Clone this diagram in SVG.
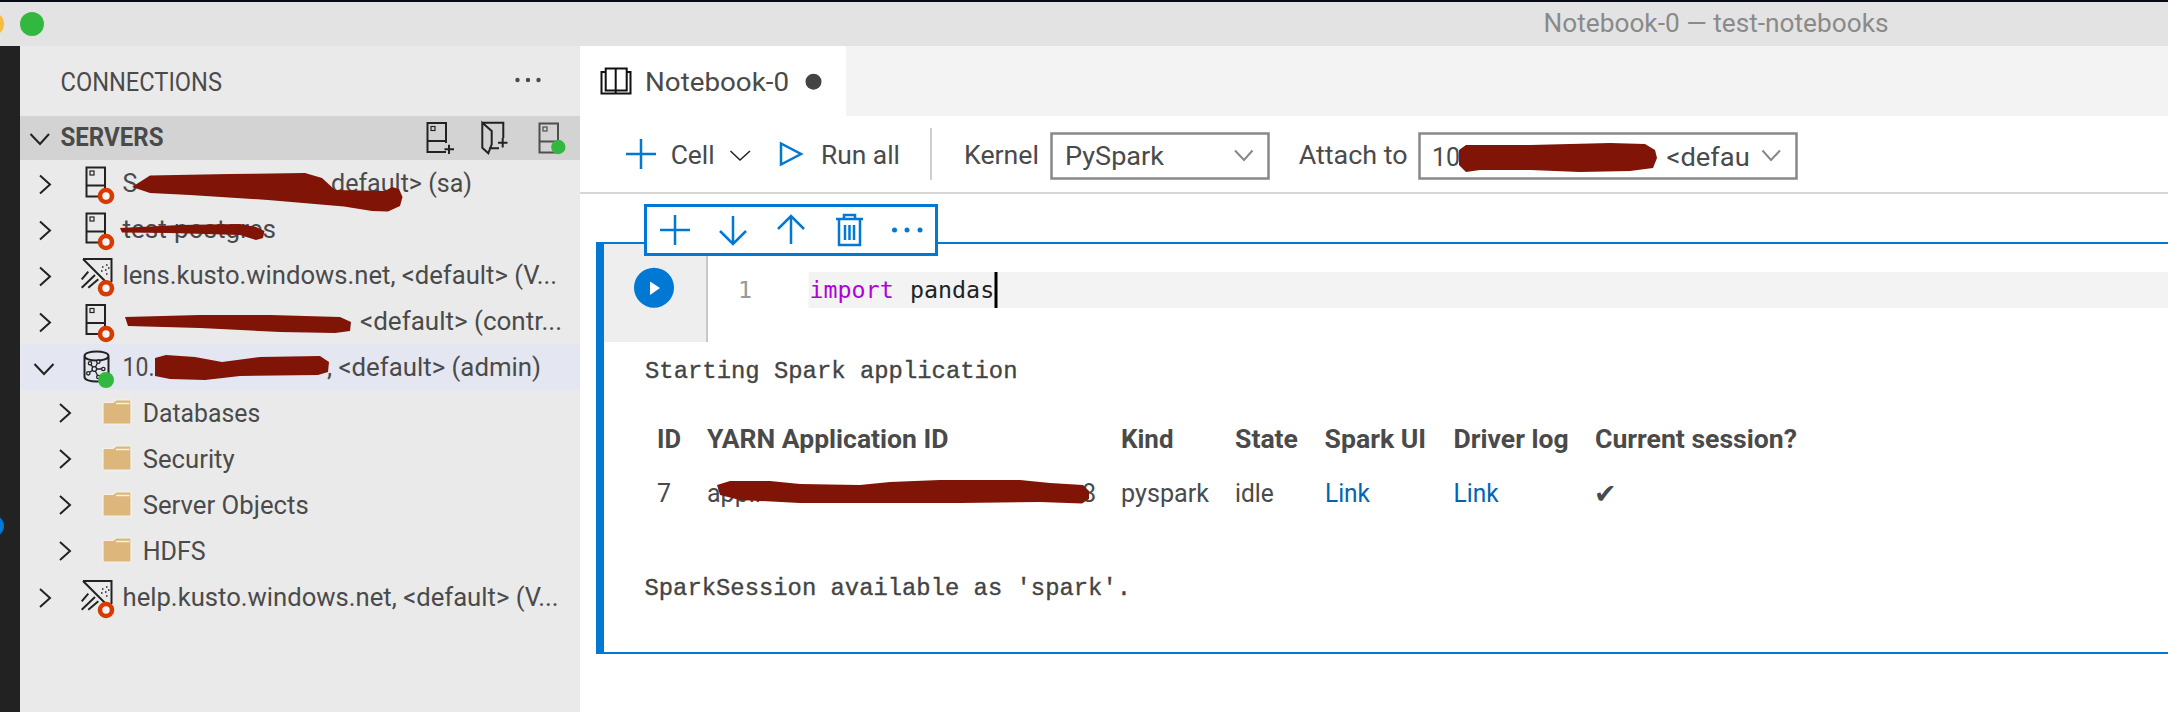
<svg xmlns="http://www.w3.org/2000/svg" width="2168" height="712" viewBox="0 0 2168 712">
<style>
text{font-family:"Roboto","Liberation Sans",sans-serif;font-size:25px;fill:#4a4a4a}
.b{font-weight:700}
.mono{font-family:"Liberation Mono",monospace;font-size:23.85px;fill:#444;stroke:#444;stroke-width:.35px}
.code{font-family:"DejaVu Sans Mono",monospace;font-size:23.3px;fill:#222}
.link{fill:#0065b3}
.ln{fill:none;stroke:#222;stroke-width:2}
.bl{fill:none;stroke:#0078d4;stroke-width:2.5}
.gc{fill:none;stroke:#888;stroke-width:2}
.box{fill:#fff;stroke:#888;stroke-width:2.5}
.red{fill:#7f1407}
.err{fill:#f6f6f6;stroke:#d83b01;stroke-width:4.6}
.ok{fill:#33b83f}
</style>
<defs>
<g id="srv" class="ln"><rect x="1" y="1" width="18.500" height="29"/><rect x="4.500" y="4.500" width="4" height="4" stroke-width="1.200"/><path d="M1 19H19.500"/></g>
<g id="kusto" class="ln"><path d="M1 1H29.500V24M1 1L25 25M-.3 21.300L6.300 13.700M-.3 29.700L13 17M6.300 29.700L16.300 21.300"/><path d="M20 9h1.500M24 7h1.500M19 13h1.500M23 12h1.500M26 10h1.500M24 16h1.500" stroke-width="1.500"/></g>
<path id="cr" class="ln" d="M0 0L10 9L0 18"/>
<g id="fold"><path d="M0 3.500H10L13 1H28V25H0Z" fill="#dcb67a" stroke="#f6f2ea" stroke-width="1.200"/><path d="M13 4.500H26.500" stroke="#f6f2ea" stroke-width="1.500"/></g>
</defs>

<g id="titlebar">
<rect width="2168" height="46" fill="#e3e3e3"/>
<rect width="2168" height="2" fill="#050a14"/>
<circle cx="-8" cy="24" r="12" fill="#f5bd3f"/>
<circle cx="32" cy="24" r="12" fill="#33b83f"/>
<text x="1543.500" y="31.500" style="fill:#8a8a8a" textLength="345" lengthAdjust="spacingAndGlyphs">Notebook-0 — test-notebooks</text>
</g>

<g id="sidebar">
<rect y="46" width="20" height="666" fill="#222"/>
<circle cx="-7" cy="526" r="11" fill="#0078d4"/>
<rect x="20" y="46" width="560" height="666" fill="#eaeaea"/>
<text x="60.500" y="90.500" textLength="161.500" lengthAdjust="spacingAndGlyphs">CONNECTIONS</text>
<g fill="#4a4a4a"><circle cx="517.500" cy="80" r="2.200"/><circle cx="528" cy="80" r="2.200"/><circle cx="538.500" cy="80" r="2.200"/></g>
</g>

<g id="servers-header">
<rect x="20" y="116" width="560" height="44" fill="#d3d3d3"/>
<path class="ln" d="M30.500 134L40 144L49 134"/>
<text class="b" x="60.500" y="146" textLength="103" lengthAdjust="spacingAndGlyphs">SERVERS</text>
<use href="#srv" x="426.500" y="122"/><rect x="441" y="143" width="14" height="12" fill="#d3d3d3"/><path class="ln" d="M441 152H446M444.500 149.300H454M449 144.800V154"/>
<path class="ln" d="M482.300 122.700H503.300V138M482.300 122.700L491.700 131V144.300L488.300 153.300L482.300 147.700ZM489 148.300H499M498 142.700H507.500M502.700 138V147.500"/>
<g opacity=".75"><use href="#srv" x="538.500" y="122.500"/></g><circle class="ok" cx="558.300" cy="147" r="7.200"/>
</g>

<g id="row-1">
<use href="#cr" x="40" y="175.500"/><use href="#srv" x="85.500" y="166.500"/><circle class="err" cx="106" cy="196" r="6"/>
<text x="122.500" y="191.700">S</text>
<text x="331" y="191.700" textLength="141" lengthAdjust="spacingAndGlyphs">default&gt; (sa)</text>
<path class="red" d="M132 187L150 175.500L230 174L305 173L322 178L335 190L385 191L392 187L399 189L402.500 197L400 206L388 211.500L372 211L344 206.500L268 200L190 195L150 193Z"/>
</g>
<g id="row-2">
<use href="#cr" x="40" y="221.500"/><use href="#srv" x="85.500" y="212.500"/><circle class="err" cx="106" cy="242" r="6"/>
<text x="122.500" y="237.700" textLength="153.500" lengthAdjust="spacingAndGlyphs">test-postgres</text>
<path class="red" d="M120 228L180 225L240 224L256 227L264.500 231L263 238L256 240L240 235L170 233L122 232.500Z"/>
</g>
<g id="row-3">
<use href="#cr" x="40" y="267.500"/><use href="#kusto" x="82" y="258"/><circle class="err" cx="106" cy="288.300" r="6"/>
<text x="122.500" y="283.700" textLength="434.500" lengthAdjust="spacingAndGlyphs">lens.kusto.windows.net, &lt;default&gt; (V...</text>
</g>
<g id="row-4">
<use href="#cr" x="40" y="313.500"/><use href="#srv" x="85.500" y="304"/><circle class="err" cx="106" cy="334" r="6"/>
<text x="360" y="329.700" textLength="202" lengthAdjust="spacingAndGlyphs">&lt;default&gt; (contr...</text>
<path class="red" d="M125 317L200 315L270 315L340 317L351 322L350 331L335 333L280 332L200 328L128 326Z"/>
</g>
<g id="row-5">
<rect x="20" y="344" width="560" height="46" fill="#e4e6f1"/>
<path class="ln" d="M34.500 364L44 374L53.500 364"/>
<path class="ln" d="M84.500 356V377C84.500 383 108.500 383 108.500 377V356M84.500 356C84.500 350 108.500 350 108.500 356C108.500 362 84.500 362 84.500 356Z"/>
<g fill="none" stroke="#222" stroke-width="1.300"><path d="M94.300 369L90 363.300M94.300 369L98.300 361.700M94.300 369H103.300M94.300 369L98.300 377M94.300 369L88.300 373.300"/><circle cx="94.300" cy="369" r="2.300" fill="#e4e6f1"/><circle cx="90" cy="363.300" r="1.700" fill="#e4e6f1"/><circle cx="98.300" cy="361.700" r="1.700" fill="#e4e6f1"/><circle cx="103.300" cy="369" r="1.700" fill="#e4e6f1"/><circle cx="98.300" cy="377" r="1.700" fill="#e4e6f1"/><circle cx="88.300" cy="373.300" r="1.700" fill="#e4e6f1"/></g>
<circle class="ok" cx="106" cy="380" r="8"/>
<text x="122.500" y="375.700" textLength="32" lengthAdjust="spacingAndGlyphs">10.</text>
<text x="327" y="375.700" textLength="214" lengthAdjust="spacingAndGlyphs">, &lt;default&gt; (admin)</text>
<path class="red" d="M155 358L166 355L195 357L222 362L260 357L320 356L329 362L328 372L318 375L240 376L205 380L170 379L155 376Z"/>
</g>
<g id="databases"><use href="#cr" x="60" y="404"/><use href="#fold" x="103" y="399"/><text x="142.700" y="422" textLength="117.500" lengthAdjust="spacingAndGlyphs">Databases</text></g>
<g id="security"><use href="#cr" x="60" y="450"/><use href="#fold" x="103" y="445"/><text x="142.700" y="468" textLength="92" lengthAdjust="spacingAndGlyphs">Security</text></g>
<g id="server-objects"><use href="#cr" x="60" y="496"/><use href="#fold" x="103" y="491"/><text x="142.700" y="514" textLength="166" lengthAdjust="spacingAndGlyphs">Server Objects</text></g>
<g id="hdfs"><use href="#cr" x="60" y="542"/><use href="#fold" x="103" y="537"/><text x="142.700" y="560" textLength="63" lengthAdjust="spacingAndGlyphs">HDFS</text></g>
<g id="row-6">
<use href="#cr" x="40" y="589"/><use href="#kusto" x="82" y="580"/><circle class="err" cx="106" cy="610" r="6"/>
<text x="122.500" y="605.700" textLength="436" lengthAdjust="spacingAndGlyphs">help.kusto.windows.net, &lt;default&gt; (V...</text>
</g>

<g id="tabs">
<rect x="580" y="46" width="1588" height="70" fill="#f3f3f3"/>
<rect x="580" y="46" width="266" height="70" fill="#fff"/>
<path fill="none" stroke="#111" stroke-width="2" d="M605.700 72H601.500V93.500H630.500V72H626.700M605.700 68.500H626.700V90.500H605.700ZM615.700 68.500V93"/>
<text x="645" y="90.500" textLength="144" lengthAdjust="spacingAndGlyphs">Notebook-0</text>
<circle cx="813.500" cy="81.700" r="8" fill="#444"/>
</g>

<g id="toolbar">
<path class="bl" d="M626 154H656M641 139V169"/>
<text x="670.700" y="163.500" textLength="44" lengthAdjust="spacingAndGlyphs">Cell</text>
<path fill="none" stroke="#222" stroke-width="1.500" d="M730.500 151L740 160L750 151"/>
<path class="bl" d="M781 143.500V164.500L801 154Z"/>
<text x="821" y="163.500" textLength="79" lengthAdjust="spacingAndGlyphs">Run all</text>
<rect x="930" y="128" width="2" height="52" fill="#cfcfcf"/>
<text x="964" y="163.500" textLength="75" lengthAdjust="spacingAndGlyphs">Kernel</text>
<rect class="box" x="1051.500" y="133.500" width="217" height="45"/>
<text x="1065" y="165" textLength="99" lengthAdjust="spacingAndGlyphs">PySpark</text>
<path class="gc" d="M1235 150.500L1244 160L1252.500 150.500"/>
<text x="1298.700" y="163.500" textLength="109" lengthAdjust="spacingAndGlyphs">Attach to</text>
<rect class="box" x="1419.500" y="133.500" width="377" height="45"/>
<text x="1432" y="165.700">10</text>
<text x="1666.500" y="165.700" textLength="90" lengthAdjust="spacingAndGlyphs">&lt;defaul</text>
<rect x="1750" y="140" width="8" height="32" fill="#fff"/>
<path class="red" d="M1459 150L1466 145L1480 145L1530 145L1610 143L1645 144L1655 150L1657 158L1653 168L1630 171L1580 172L1530 170L1480 170L1466 172L1459 165Z"/>
<path class="gc" d="M1762.500 150.500L1771 160L1780 150.500"/>
<rect x="580" y="192" width="1588" height="2" fill="#d6d6d6"/>
</g>

<g id="cell">
<rect x="604" y="244" width="102" height="98" fill="#eee"/>
<rect x="706" y="244" width="2" height="98" fill="#c8c8c8"/>
<rect x="808.500" y="272" width="1359.500" height="36" fill="#f3f3f3"/>
<path fill="#0078d4" d="M596 242H2168V244H604V652H2168V654H596Z"/>
<circle cx="654" cy="287.700" r="20" fill="#0078d4"/>
<path fill="#fff" d="M650 281.500L660 288L650 295Z"/>
<text class="code" x="738" y="297.700" style="fill:#999">1</text>
<text class="code" x="809.500" y="297.700" style="fill:#af00db">import</text>
<text class="code" x="910" y="297.700">pandas</text>
<rect x="994.500" y="272" width="3" height="36" fill="#000"/>
</g>

<g id="cell-toolbar">
<rect x="645.500" y="205.500" width="291" height="49" fill="#fff" stroke="#0078d4" stroke-width="3"/>
<path class="bl" d="M660 230H690M675 215V245"/>
<path class="bl" d="M733 216V244M720 231L733 244L746 231"/>
<path class="bl" d="M791 244V216M778 229L791 216L804 229"/>
<path class="bl" d="M836 219H863M839 219V245H860V219M844 219V215H855V219M845 225V240M849.500 225V240M854 225V240"/>
<g fill="#0078d4"><circle cx="894.500" cy="230" r="2.500"/><circle cx="907" cy="230" r="2.500"/><circle cx="920" cy="230" r="2.500"/></g>
</g>

<g id="output">
<text class="mono" x="645" y="377.500" textLength="372.500">Starting Spark application</text>
<text class="b" x="657" y="448" textLength="24" lengthAdjust="spacingAndGlyphs">ID</text>
<text class="b" x="707" y="448" textLength="241.500" lengthAdjust="spacingAndGlyphs">YARN Application ID</text>
<text class="b" x="1121" y="448" textLength="52.500" lengthAdjust="spacingAndGlyphs">Kind</text>
<text class="b" x="1235" y="448" textLength="63" lengthAdjust="spacingAndGlyphs">State</text>
<text class="b" x="1324.600" y="448" textLength="101.500" lengthAdjust="spacingAndGlyphs">Spark UI</text>
<text class="b" x="1453.600" y="448" textLength="115" lengthAdjust="spacingAndGlyphs">Driver log</text>
<text class="b" x="1595" y="448" textLength="202" lengthAdjust="spacingAndGlyphs">Current session?</text>
<text x="657" y="502">7</text>
<text x="707" y="502">appli</text>
<text x="1082" y="502">8</text>
<path class="red" d="M717 485L730 481L770 481L800 484L860 485L890 482L940 480L1020 480L1050 483L1083 485L1089 491L1089 499L1082 503.500L1040 502L960 503L880 503L800 503L740 500L720 495Z"/>
<text x="1121" y="502" textLength="88" lengthAdjust="spacingAndGlyphs">pyspark</text>
<text x="1235" y="502" textLength="38.700" lengthAdjust="spacingAndGlyphs">idle</text>
<text class="link" x="1325" y="502" textLength="45" lengthAdjust="spacingAndGlyphs">Link</text>
<text class="link" x="1453.600" y="502" textLength="45" lengthAdjust="spacingAndGlyphs">Link</text>
<text x="1594" y="503" style="font-family:'DejaVu Sans',sans-serif;font-size:27px">✔</text>
<text class="mono" x="644.500" y="594.500" textLength="486.500">SparkSession available as 'spark'.</text>
</g>
</svg>
